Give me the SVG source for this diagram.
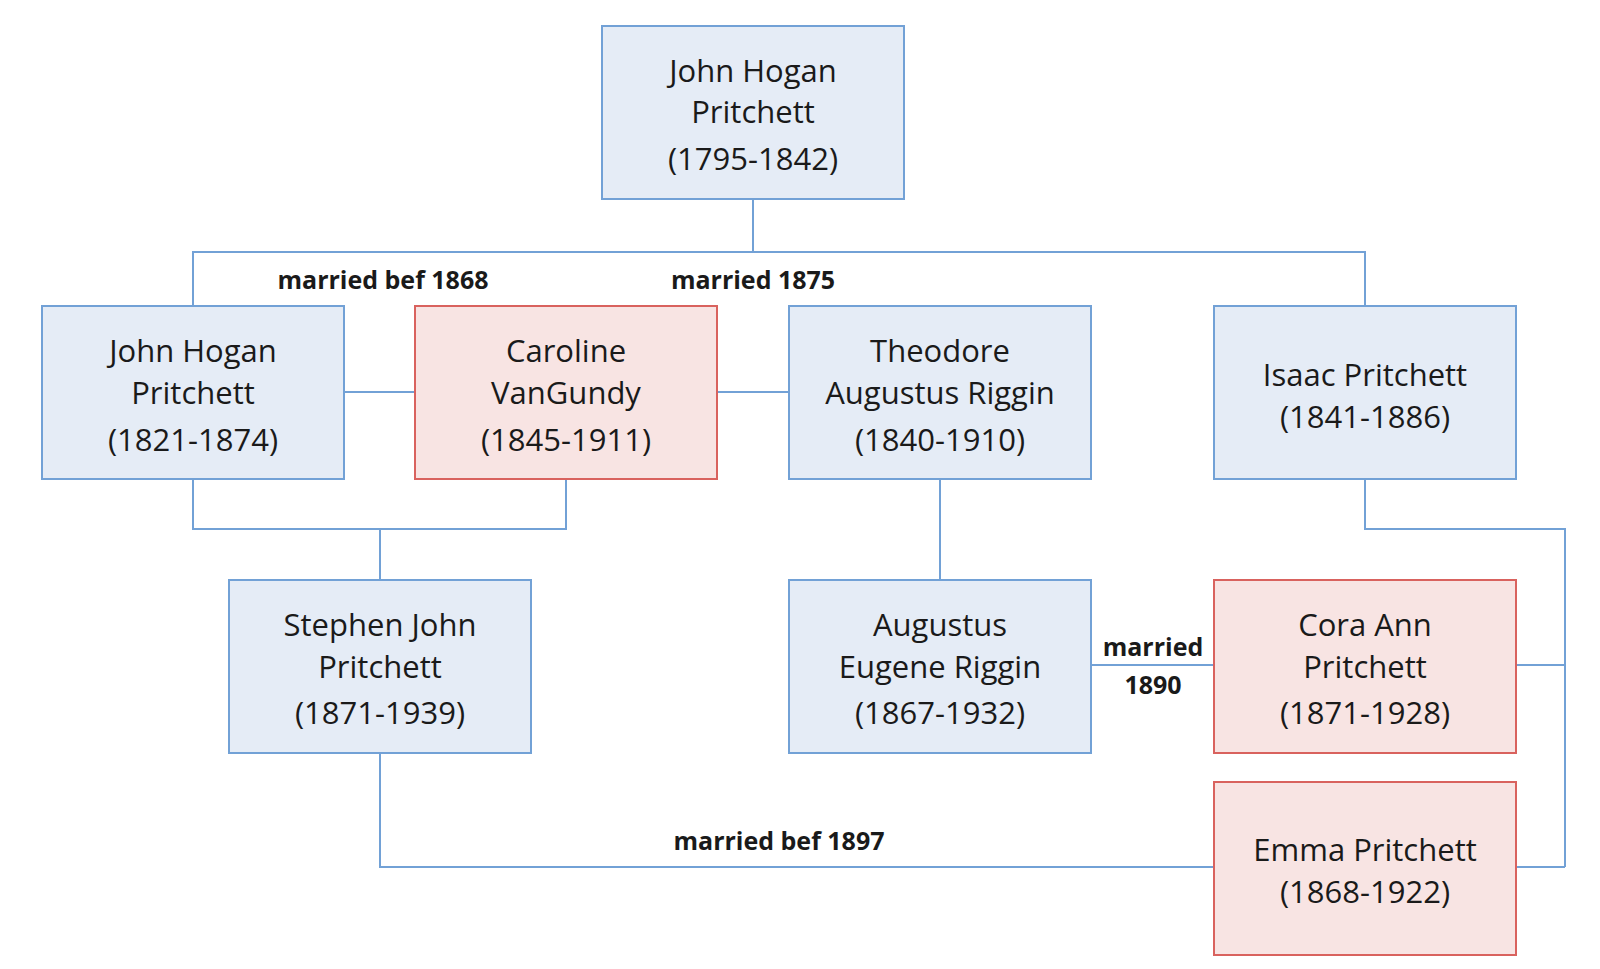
<svg xmlns="http://www.w3.org/2000/svg" width="1600" height="969" viewBox="0 0 1600 969">
<style>
.b{fill:#e5ecf6;stroke:#72a1d6;stroke-width:2}
.p{fill:#f8e4e3;stroke:#d9625e;stroke-width:2}
.t{font-family:"Open Sans","Liberation Sans",sans-serif;font-size:31px;fill:#1a1a1a;text-anchor:middle}
.l{font-family:"Open Sans","Liberation Sans",sans-serif;font-size:25px;font-weight:bold;fill:#1a1a1a;text-anchor:middle}
.c{fill:none;stroke:#72a1d6;stroke-width:2}
</style>
<rect width="1600" height="969" fill="#fff"/>
<g id="connectors" class="c">
<path d="M753 199V252M193 306V252H1365V306"/>
<path d="M344 392H415M717 392H789"/>
<path d="M193 479V529H566V479M380 529V580"/>
<path d="M940 479V580"/>
<path d="M1091 665H1214"/>
<path d="M1365 479V529H1565V867M1516 665H1565M1516 867H1565"/>
<path d="M380 752V867H1214"/>
</g>
<g id="labels">
<text class="l" x="383" y="289">married bef 1868</text>
<text class="l" x="753" y="289">married 1875</text>
<text class="l" x="1153" y="656">married</text>
<text class="l" x="1153" y="694">1890</text>
<text class="l" x="779" y="850">married bef 1897</text>
</g>
<g id="n1"><rect class="b" x="602" y="26" width="302" height="173"/><text class="t" x="753" y="82">John Hogan</text><text class="t" x="753" y="123">Pritchett</text><text class="t" x="753" y="170">(1795-1842)</text></g>
<g id="n2"><rect class="b" x="42" y="306" width="302" height="173"/><text class="t" x="193" y="362">John Hogan</text><text class="t" x="193" y="404">Pritchett</text><text class="t" x="193" y="451">(1821-1874)</text></g>
<g id="n3"><rect class="p" x="415" y="306" width="302" height="173"/><text class="t" x="566" y="362">Caroline</text><text class="t" x="566" y="404">VanGundy</text><text class="t" x="566" y="451">(1845-1911)</text></g>
<g id="n4"><rect class="b" x="789" y="306" width="302" height="173"/><text class="t" x="940" y="362">Theodore</text><text class="t" x="940" y="404">Augustus Riggin</text><text class="t" x="940" y="451">(1840-1910)</text></g>
<g id="n5"><rect class="b" x="1214" y="306" width="302" height="173"/><text class="t" x="1365" y="386">Isaac Pritchett</text><text class="t" x="1365" y="428">(1841-1886)</text></g>
<g id="n6"><rect class="b" x="229" y="580" width="302" height="173"/><text class="t" x="380" y="636">Stephen John</text><text class="t" x="380" y="678">Pritchett</text><text class="t" x="380" y="724">(1871-1939)</text></g>
<g id="n7"><rect class="b" x="789" y="580" width="302" height="173"/><text class="t" x="940" y="636">Augustus</text><text class="t" x="940" y="678">Eugene Riggin</text><text class="t" x="940" y="724">(1867-1932)</text></g>
<g id="n8"><rect class="p" x="1214" y="580" width="302" height="173"/><text class="t" x="1365" y="636">Cora Ann</text><text class="t" x="1365" y="678">Pritchett</text><text class="t" x="1365" y="724">(1871-1928)</text></g>
<g id="n9"><rect class="p" x="1214" y="782" width="302" height="173"/><text class="t" x="1365" y="861">Emma Pritchett</text><text class="t" x="1365" y="903">(1868-1922)</text></g>
</svg>
